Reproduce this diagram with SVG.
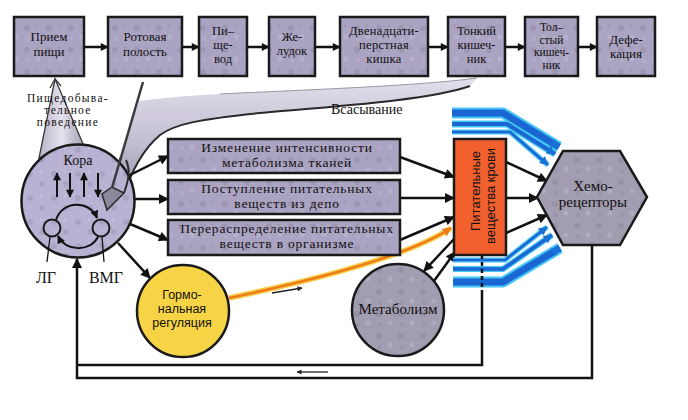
<svg xmlns="http://www.w3.org/2000/svg" width="688" height="420" viewBox="0 0 688 420">
<defs>
<pattern id="texBox" width="22" height="22" patternUnits="userSpaceOnUse">
<rect width="22" height="22" fill="#aaa3c1"/>
<circle cx="5" cy="6" r="3" fill="#9e97b4"/>
<circle cx="16" cy="15" r="2.5" fill="#b7b0cd"/>
<circle cx="15" cy="4" r="1.5" fill="#a098b5"/>
<circle cx="6" cy="17" r="2" fill="#b3accb"/>
</pattern>
<pattern id="texKora" width="24" height="24" patternUnits="userSpaceOnUse">
<rect width="24" height="24" fill="#bab2d3"/>
<circle cx="6" cy="6" r="3" fill="#aaa2c2"/>
<circle cx="18" cy="16" r="3" fill="#aca4c4"/>
<circle cx="17" cy="4" r="1.5" fill="#c6bedd"/>
</pattern>
<pattern id="texGray" width="22" height="22" patternUnits="userSpaceOnUse">
<rect width="22" height="22" fill="#a29db0"/>
<circle cx="5" cy="6" r="3" fill="#9691a6"/>
<circle cx="16" cy="15" r="2.5" fill="#b0abc0"/>
<circle cx="6" cy="17" r="2" fill="#9893a8"/>
</pattern>
<linearGradient id="band" x1="0" y1="0" x2="0" y2="1">
<stop offset="0" stop-color="#e2deea"/>
<stop offset="0.5" stop-color="#c3bdd2"/>
<stop offset="1" stop-color="#8a8599"/>
</linearGradient>
<linearGradient id="wedge" x1="0" y1="0" x2="1" y2="0">
<stop offset="0" stop-color="#b8b1c8"/>
<stop offset="0.5" stop-color="#e6e2ee"/>
<stop offset="1" stop-color="#a49eb4"/>
</linearGradient>
<marker id="ah" viewBox="0 0 10 10" refX="9" refY="5" markerWidth="12" markerHeight="10" markerUnits="userSpaceOnUse" orient="auto">
<path d="M0,0 L10,5 L0,10 z" fill="#111"/>
</marker>
<marker id="ahs" viewBox="0 0 10 10" refX="9" refY="5" markerWidth="9" markerHeight="8" markerUnits="userSpaceOnUse" orient="auto">
<path d="M0,0 L10,5 L0,10 z" fill="#111"/>
</marker>
<marker id="aht" viewBox="0 0 10 10" refX="9" refY="5" markerWidth="8" markerHeight="5" markerUnits="userSpaceOnUse" orient="auto">
<path d="M0,0 L10,5 L0,10 z" fill="#222"/>
</marker>
<marker id="ahb" viewBox="0 0 10 10" refX="9" refY="5" markerWidth="10" markerHeight="9" markerUnits="userSpaceOnUse" orient="auto">
<path d="M0,0 L10,5 L0,10 z" fill="#1a72d6"/>
</marker>
<marker id="aho" viewBox="0 0 10 10" refX="9" refY="5" markerWidth="10" markerHeight="9" markerUnits="userSpaceOnUse" orient="auto">
<path d="M0,0 L10,5 L0,10 z" fill="#ee7a1a"/>
</marker>
<style>
.box{fill:url(#texBox);stroke:#1a1a1a;stroke-width:2.5}
.t{font-family:"Liberation Serif","DejaVu Serif",serif;font-size:12.5px;fill:#111;text-anchor:middle}
.tm{font-family:"Liberation Serif","DejaVu Serif",serif;font-size:13.5px;fill:#111;text-anchor:middle;letter-spacing:0.8px}
.ts{font-family:"Liberation Sans","DejaVu Sans",sans-serif;font-size:12.5px;fill:#111;text-anchor:middle}
.c{fill:none;stroke:#111;stroke-width:2.5}
.cs{fill:none;stroke:#111;stroke-width:2}
.bl1{fill:none;stroke:#45c6f5;stroke-linejoin:round}
.bl2{fill:none;stroke:#1a66d2;stroke-linejoin:round}
</style>
</defs>

<!-- gray absorption / behaviour arrows -->
<g id="gray-arrows">
<path d="M55,79 L39,158 L84,146 Z" fill="url(#wedge)" stroke="#3a3a3a" stroke-width="1.3"/>
<path d="M50,88 L55,79 L61,86" fill="none" stroke="#3a3a3a" stroke-width="1.3"/>
<path d="M477,78 C420,86 300,90 220,94 C180,96 155,99 139,101 L112,187 L102,194 L107,210 L124,193 C132,172 142,150 160,135 C175,124 200,119 260,113 C340,106 430,100 470,86 Z" fill="url(#band)" stroke="none"/>
<path d="M470,86 C430,100 340,106 260,113 C200,119 175,124 160,135 C142,150 132,172 124,193" fill="none" stroke="#2a2a2a" stroke-width="2"/>
<path d="M477,78 C420,86 300,90 220,94" fill="none" stroke="#9a96a6" stroke-width="1"/>
<line x1="143" y1="82" x2="112" y2="188" stroke="#3a3a3a" stroke-width="2.5"/>
</g>

<g id="connectors">
<!-- top chain -->
<line x1="84" y1="47" x2="108" y2="47" class="c" marker-end="url(#ahs)"/>
<line x1="182" y1="47" x2="199" y2="47" class="c" marker-end="url(#ahs)"/>
<line x1="247" y1="47" x2="269" y2="47" class="c" marker-end="url(#ahs)"/>
<line x1="315" y1="47" x2="340" y2="47" class="c" marker-end="url(#ahs)"/>
<line x1="428" y1="47" x2="448" y2="47" class="c" marker-end="url(#ahs)"/>
<line x1="505" y1="47" x2="525" y2="47" class="c" marker-end="url(#ahs)"/>
<line x1="578" y1="47" x2="597" y2="47" class="c" marker-end="url(#ahs)"/>
<!-- Kora outputs -->
<line x1="128" y1="176" x2="168" y2="156" class="c" marker-end="url(#ah)"/>
<line x1="134" y1="199" x2="168" y2="199" class="c" marker-end="url(#ah)"/>
<line x1="130" y1="224" x2="168" y2="240" class="c" marker-end="url(#ah)"/>
<line x1="118" y1="243" x2="150" y2="278" class="c" marker-end="url(#ah)"/>
<!-- boxes to blood -->
<line x1="400" y1="157" x2="454" y2="177" class="c" marker-end="url(#ah)"/>
<line x1="400" y1="198" x2="454" y2="198" class="c" marker-end="url(#ah)"/>
<line x1="400" y1="240" x2="454" y2="217" class="c" marker-end="url(#ah)"/>
<!-- metabolism <-> blood -->
<line x1="454" y1="239" x2="424" y2="271" class="c" marker-end="url(#ah)"/>
<line x1="434" y1="281" x2="455" y2="252" class="c" marker-end="url(#ah)"/>
<!-- blood to chemoreceptors -->
<line x1="506" y1="162" x2="547" y2="181" class="c" marker-end="url(#ah)"/>
<line x1="506" y1="198" x2="538" y2="198" class="c" marker-end="url(#ah)"/>
<line x1="506" y1="233" x2="547" y2="215" class="c" marker-end="url(#ah)"/>
<!-- orange hormonal -->
<path d="M229,298 Q400,262 451,228" fill="none" stroke="#f6cf48" stroke-width="5.5"/>
<path d="M229,298 Q400,262 451,228" fill="none" stroke="#ee7a1a" stroke-width="2.5" marker-end="url(#aho)"/>
<line x1="272" y1="293" x2="302" y2="288" stroke="#222" stroke-width="1.3" marker-end="url(#aht)"/>
<!-- blue bands top -->
<polyline points="452,113 503,113 559,147" class="bl1" stroke-width="11"/>
<polyline points="452,113 503,113 559,147" class="bl2" stroke-width="7" marker-end="url(#ahb)"/>
<polyline points="452,124 507,124 555,154" class="bl1" stroke-width="7"/>
<polyline points="452,124 507,124 555,154" class="bl2" stroke-width="4" marker-end="url(#ahb)"/>
<polyline points="452,132 510,132 548,165" class="bl1" stroke-width="5"/>
<polyline points="452,132 510,132 548,165" class="bl2" stroke-width="2.5" marker-end="url(#ahb)"/>
<!-- blue bands bottom -->
<polyline points="453,260 505,260 547,227" class="bl1" stroke-width="5"/>
<polyline points="453,260 505,260 547,227" class="bl2" stroke-width="2.5" marker-end="url(#ahb)"/>
<polyline points="453,269 503,269 552,235" class="bl1" stroke-width="6"/>
<polyline points="453,269 503,269 552,235" class="bl2" stroke-width="3.5" marker-end="url(#ahb)"/>
<polyline points="453,282 503,282 560,248" class="bl1" stroke-width="11"/>
<polyline points="453,282 503,282 560,248" class="bl2" stroke-width="7" marker-end="url(#ahb)"/>
<!-- feedback loops -->
<line x1="482" y1="255" x2="482" y2="292" stroke="#111" stroke-width="2.5" stroke-dasharray="4 3"/>
<polyline points="482,292 482,365 77,365" class="c"/>
<polyline points="592,245 592,378 77,378 77,259" class="c" marker-end="url(#ah)"/>
<line x1="328" y1="372" x2="297" y2="372" stroke="#222" stroke-width="1.3" marker-end="url(#aht)"/>
</g>

<!-- top row -->
<g id="n-priem"><rect x="14" y="17" width="70" height="59" class="box"/><text class="t" style="font-size:13px"><tspan x="49" y="41">Прием</tspan><tspan x="49" y="56">пищи</tspan></text></g>
<g id="n-rot"><rect x="108" y="17" width="74" height="59" class="box"/><text class="t" style="font-size:13px"><tspan x="145" y="41">Ротовая</tspan><tspan x="145" y="56">полость</tspan></text></g>
<g id="n-pishevod"><rect x="199" y="17" width="48" height="59" class="box"/><text class="t"><tspan x="223" y="35">Пи–</tspan><tspan x="223" y="49">ще-</tspan><tspan x="223" y="63">вод</tspan></text></g>
<g id="n-zhel"><rect x="269" y="17" width="46" height="59" class="box"/><text class="t"><tspan x="292" y="41">Же-</tspan><tspan x="292" y="55">лудок</tspan></text></g>
<g id="n-duod"><rect x="340" y="17" width="88" height="59" class="box"/><text class="t" style="letter-spacing:0.3px"><tspan x="384" y="35">Двенадцати-</tspan><tspan x="384" y="49">перстная</tspan><tspan x="384" y="63">кишка</tspan></text></g>
<g id="n-tonk"><rect x="448" y="17" width="57" height="59" class="box"/><text class="t"><tspan x="476.5" y="35">Тонкий</tspan><tspan x="476.5" y="49">кишеч-</tspan><tspan x="476.5" y="63">ник</tspan></text></g>
<g id="n-tolst"><rect x="525" y="17" width="53" height="59" class="box"/><text class="t" style="font-size:11.5px"><tspan x="551.5" y="31">Тол–</tspan><tspan x="551.5" y="43.5">стый</tspan><tspan x="551.5" y="56">кишеч-</tspan><tspan x="551.5" y="68.5">ник</tspan></text></g>
<g id="n-defek"><rect x="597" y="17" width="58" height="59" class="box"/><text class="t" style="font-size:13px"><tspan x="626" y="44">Дефе-</tspan><tspan x="626" y="58">кация</tspan></text></g>

<g id="labels">
<text class="t" style="font-size:11.5px;letter-spacing:1.3px"><tspan x="68" y="102">Пищедобыва-</tspan><tspan x="68" y="114">тельное</tspan><tspan x="68" y="126">поведение</tspan></text>
<text class="t" style="text-anchor:start;font-size:14px" x="331" y="114">Всасывание</text>
</g>

<!-- Kora -->
<g id="n-kora">
<circle cx="78" cy="201" r="56.5" fill="url(#texKora)" stroke="#1a1a1a" stroke-width="2.5"/>
<path d="M112,187 L102,194 L107,210 L124,193 Z" fill="#8c879a" stroke="#2a2a2a" stroke-width="1.5"/>
<line x1="121" y1="157" x2="112" y2="188" stroke="#3a3a3a" stroke-width="2.5"/>
<path d="M126,160 C131,171 128,182 124,193" fill="none" stroke="#2a2a2a" stroke-width="2"/>
<text class="t" style="font-size:14px" x="78" y="165">Кора</text>
<line x1="57" y1="197" x2="57" y2="173" class="cs" marker-end="url(#ahs)"/>
<line x1="70" y1="173" x2="70" y2="197" class="cs" marker-end="url(#ahs)"/>
<line x1="84" y1="197" x2="84" y2="173" class="cs" marker-end="url(#ahs)"/>
<line x1="98" y1="173" x2="98" y2="197" class="cs" marker-end="url(#ahs)"/>
<circle cx="52" cy="228" r="8.5" fill="url(#texKora)" stroke="#1a1a1a" stroke-width="2"/>
<circle cx="101" cy="228" r="8.5" fill="url(#texKora)" stroke="#1a1a1a" stroke-width="2"/>
<path d="M56,220 C62,200 90,200 97,218" class="cs" marker-end="url(#ahs)"/>
<path d="M98,237 C90,252 66,252 58,236" class="cs" marker-end="url(#ahs)"/>
<line x1="50" y1="237" x2="47" y2="262" stroke="#111" stroke-width="1.3"/>
<line x1="102" y1="237" x2="104" y2="262" stroke="#111" stroke-width="1.3"/>
<text class="t" style="font-size:16px" x="46" y="283">ЛГ</text>
<text class="t" style="font-size:16px" x="106" y="283">ВМГ</text>
</g>

<!-- middle boxes -->
<g id="n-izm"><rect x="168" y="139" width="232" height="34" class="box"/><text class="tm"><tspan x="287" y="152">Изменение интенсивности</tspan><tspan x="287" y="167">метаболизма тканей</tspan></text></g>
<g id="n-post"><rect x="168" y="180" width="232" height="34" class="box"/><text class="tm"><tspan x="287" y="193">Поступление питательных</tspan><tspan x="287" y="208">веществ  из депо</tspan></text></g>
<g id="n-pere"><rect x="168" y="220" width="232" height="35" class="box"/><text class="tm"><tspan x="287" y="233">Перераспределение питательных</tspan><tspan x="287" y="248">веществ в организме</tspan></text></g>

<g id="n-gorm"><circle cx="183" cy="311" r="46" fill="#f7d446" stroke="#1a1a1a" stroke-width="2.5"/><text class="ts"><tspan x="182" y="299">Гормо-</tspan><tspan x="182" y="313">нальная</tspan><tspan x="182" y="327">регуляция</tspan></text></g>

<g id="n-metab"><circle cx="398" cy="310" r="46" fill="url(#texGray)" stroke="#1a1a1a" stroke-width="2.5"/><text class="t" style="font-size:15px" x="398" y="314">Метаболизм</text></g>

<g id="n-blood"><rect x="454" y="139" width="52" height="116" fill="#f2602e" stroke="#1a1a1a" stroke-width="2.5"/>
<text class="ts" style="font-size:13px" transform="translate(480,197) rotate(-90)"><tspan x="6" y="0">Питательные</tspan><tspan x="1" y="15">вещества крови</tspan></text></g>

<g id="n-chemo"><polygon points="563,151 620,151 647,197 620,245 563,245 537,197" fill="url(#texGray)" stroke="#1a1a1a" stroke-width="2.5"/><text class="t" style="font-size:15px"><tspan x="593" y="191">Хемо-</tspan><tspan x="593" y="207">рецепторы</tspan></text></g>
</svg>
